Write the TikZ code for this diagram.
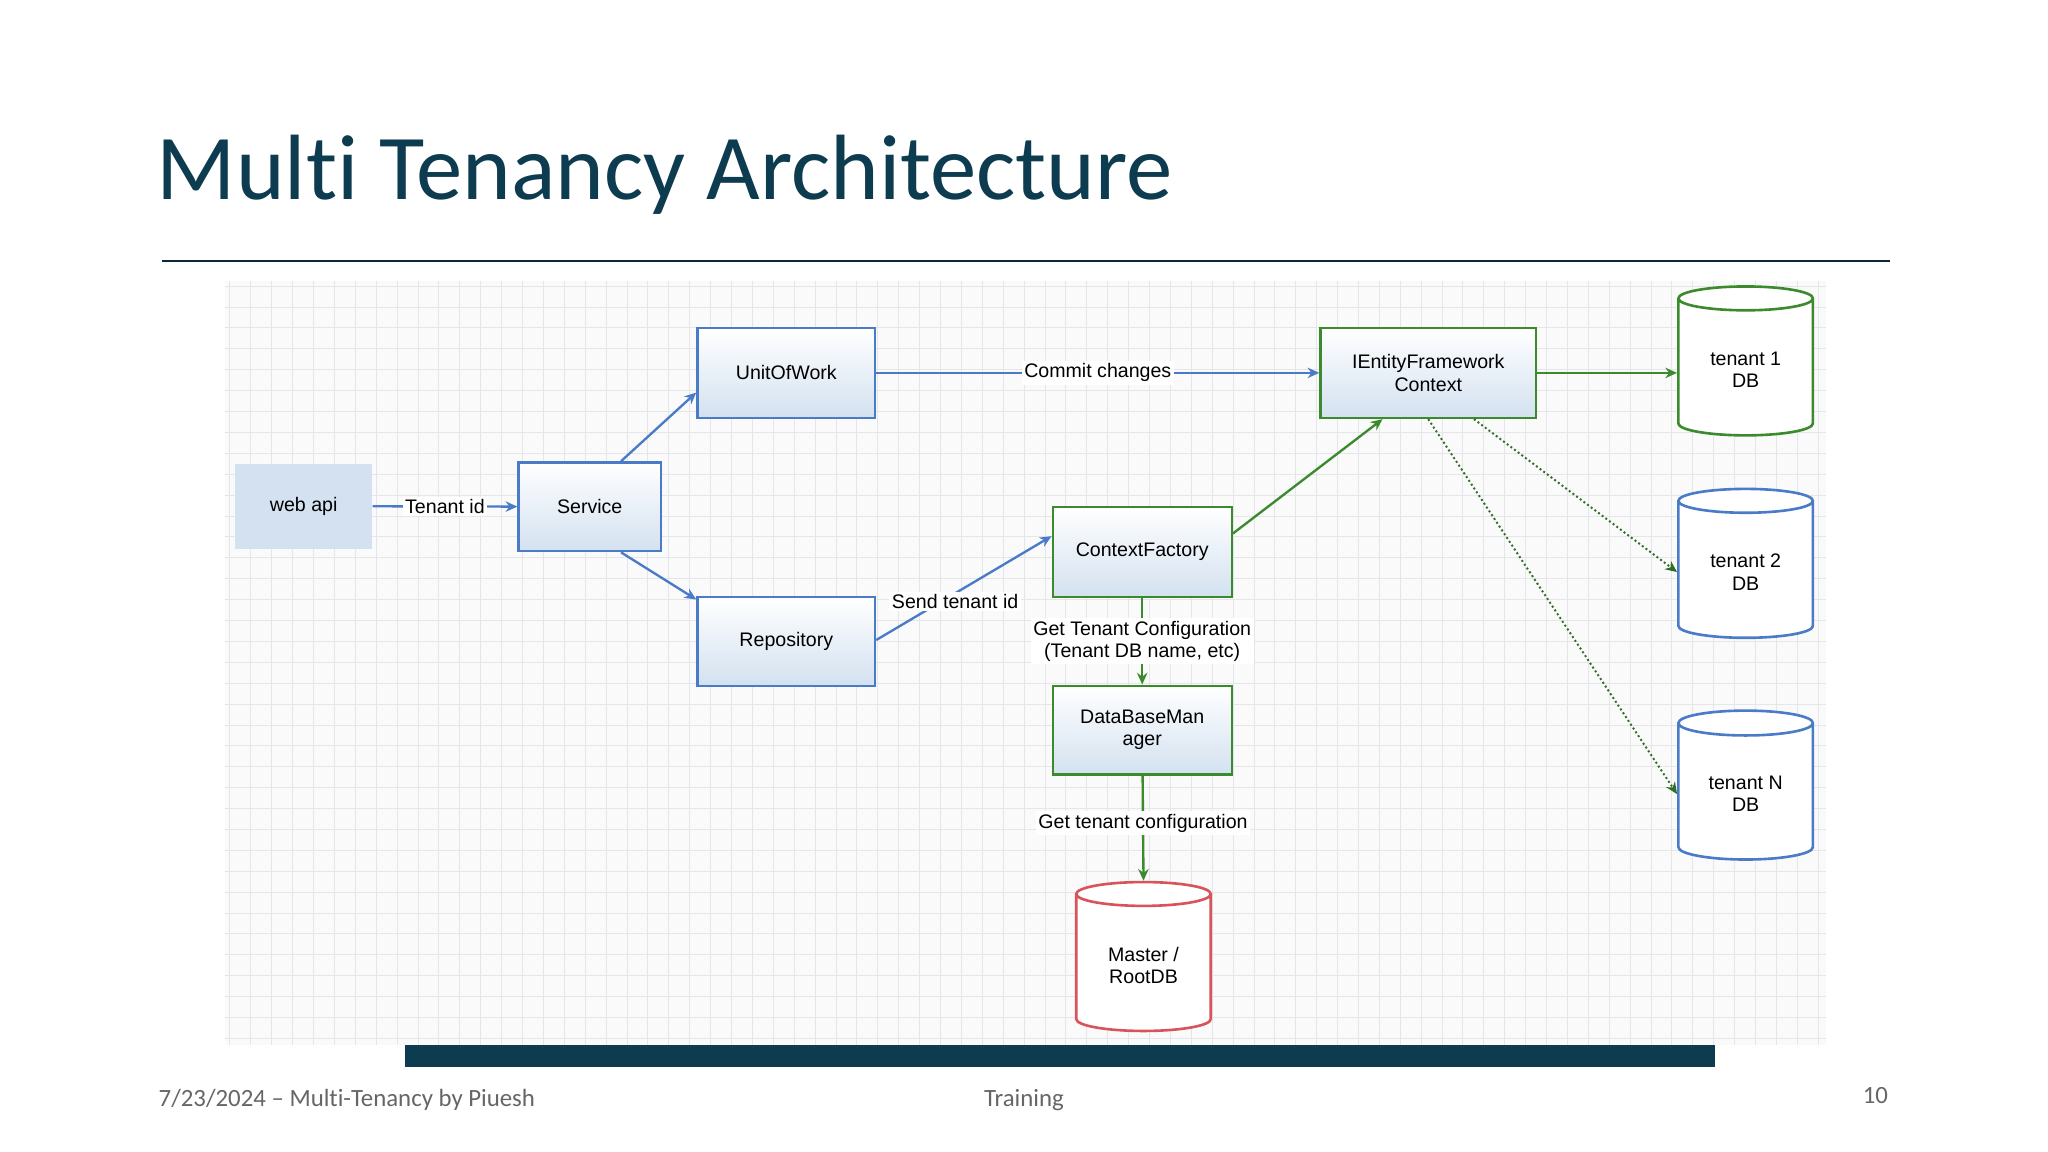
\documentclass[tikz,border=0pt]{standalone}
\usepackage{fontspec}
\setmainfont{Liberation Sans}
\newfontfamily\carl[Ligatures=NoCommon]{Carlito}
\usetikzlibrary{shapes.geometric,arrows.meta}
\definecolor{teal}{HTML}{0D3B4F}
\definecolor{bblue}{HTML}{4A7BC8}
\definecolor{ggreen}{HTML}{3C8A2E}
\definecolor{rred}{HTML}{D9545A}
\definecolor{lfill}{HTML}{D3E1F0}
\definecolor{gridc}{HTML}{E4E6EA}
\tikzset{
 box/.style={draw=#1,line width=1.8pt,top color=white,bottom color=lfill,align=center,font=\fontsize{15}{17}\selectfont},
 bbox/.style={box=bblue},
 gbox/.style={box=ggreen},
 cyl/.style={cylinder,shape border rotate=90,aspect=0.3,draw=#1,line width=2pt,fill=white,align=center,minimum width=103pt,minimum height=114pt,font=\fontsize{15}{17}\selectfont},
 barr/.style={draw=bblue,line width=1.8pt,-{Stealth[length=9pt,width=8pt]}},
 garr/.style={draw=ggreen,line width=1.8pt,-{Stealth[length=9pt,width=8pt]}},
 darr/.style={draw=ggreen!80!black,line width=1.5pt,dotted,-{Stealth[length=9pt,width=8pt]}},
 lbl/.style={fill=white,inner sep=2pt,font=\fontsize{15}{17}\selectfont,align=center},
}
\begin{document}
\begin{tikzpicture}[x=1pt,y=-1pt]
\useasboundingbox (0,0) rectangle (1568,882);
\fill[white] (0,0) rectangle (1568,882);
\node[anchor=base west,text=teal,font=\carl\fontsize{71}{78}\selectfont,inner sep=0] (title) at (120,153) {Multi Tenancy Architecture};
\draw[line width=1.2pt,teal!70!black] (124,200) coordinate (l1) -- (1447,200) coordinate (l2);
\fill[gray!4] (172,215) rectangle (1398,800);
\foreach \x in {176,192,...,1398} \draw[gridc,line width=0.6pt] (\x,215) -- (\x,800);
\foreach \y in {219,235,...,800} \draw[gridc,line width=0.6pt] (172,\y) -- (1398,\y);
\fill[teal] (310,800) rectangle (1313,817);
\node[anchor=base west,text=gray!80!black,font=\carl\fontsize{19}{22}\selectfont] (f1) at (118,847) {7/23/2024 – Multi-Tenancy by Piuesh};
\node[anchor=base,text=gray!80!black,font=\carl\fontsize{19}{22}\selectfont] (f2) at (784,847) {Training};
\node[anchor=base east,text=gray!80!black,font=\carl\fontsize{19}{22}\selectfont] (f3) at (1449,845) {10};

\node[fill=lfill,minimum width=105pt,minimum height=65pt,font=\fontsize{15}{17}\selectfont] (web) at (232.5,387.5) {web api};
\node[bbox,minimum width=109pt,minimum height=68pt] (svc) at (451.5,388) {Service};
\node[bbox,minimum width=136pt,minimum height=69pt] (uow) at (602,285.5) {UnitOfWork};
\node[bbox,minimum width=136pt,minimum height=68pt] (rep) at (602,491) {Repository};
\node[gbox,minimum width=137pt,minimum height=69pt] (cf) at (874.5,422.5) {ContextFactory};
\node[gbox,minimum width=137pt,minimum height=68pt] (dbm) at (874.5,559) {DataBaseMan\\ager};
\node[gbox,minimum width=165pt,minimum height=69pt] (ief) at (1093.5,285.5) {IEntityFramework\\Context};
\node[cyl=ggreen] (t1) at (1336.5,283) {tenant 1\\DB};
\node[cyl=bblue] (t2) at (1336.5,438) {tenant 2\\DB};
\node[cyl=bblue] (tn) at (1336.5,608) {tenant N\\DB};
\node[cyl=rred] (m) at (875.5,739) {Master /\\RootDB};

\draw[barr] (web) -- node[lbl]{Tenant id} (svc);
\draw[barr] ([xshift=24pt]svc.north) -- ([yshift=-15pt]uow.west);
\draw[barr] ([xshift=24pt]svc.south) -- ([yshift=32pt]rep.west);
\draw[barr] ([yshift=1pt]rep.east) -- node[lbl,pos=0.45,below=-2pt]{Send tenant id} ([yshift=12pt]cf.west);
\draw[barr] (uow) -- node[lbl]{Commit changes} (ief);
\draw[garr] ([yshift=14pt]cf.east) -- ([xshift=-35pt]ief.south);
\draw[garr] (ief.east) -- (t1.west |- ief.east);
\draw[darr] ([xshift=35pt]ief.south) -- ([yshift=0pt]t2.west);
\draw[darr] (ief.south) -- ([yshift=0pt]tn.west);
\draw[garr] (cf) -- node[lbl,pos=0.5]{Get Tenant Configuration\\(Tenant DB name, etc)} (dbm);
\draw[garr] (dbm) -- node[lbl,pos=0.45]{Get tenant configuration} (m.north);
\end{tikzpicture}
\end{document}
